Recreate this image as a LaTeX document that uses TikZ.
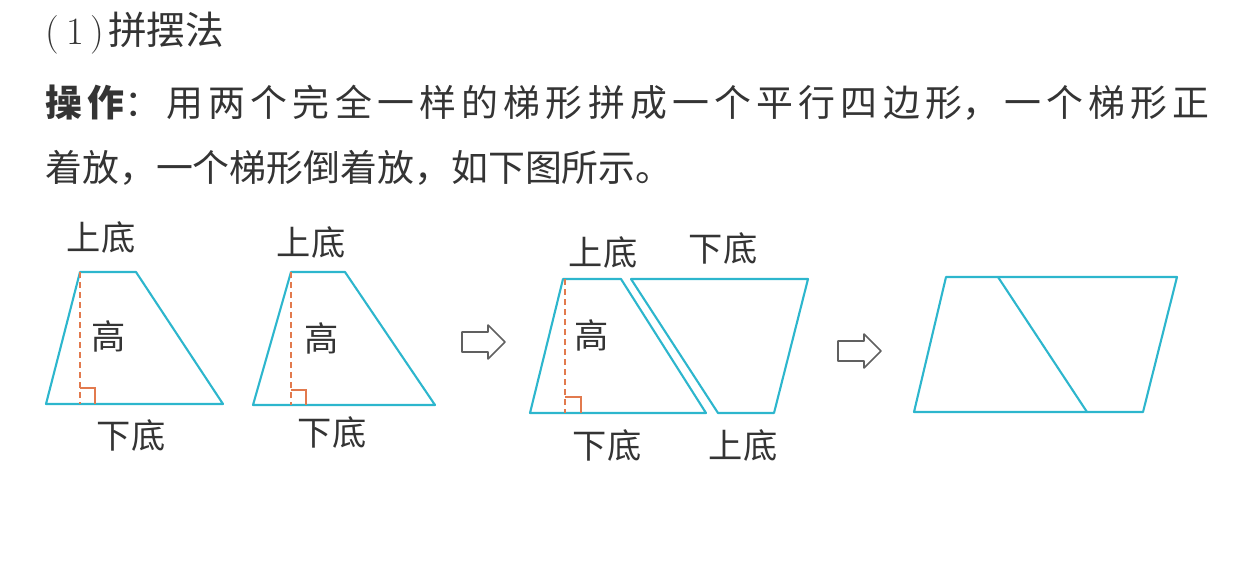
\documentclass[tikz,border=0pt]{standalone}
\usepackage{fontspec}
\newfontfamily\cjk{Noto Sans CJK SC}
\XeTeXlinebreaklocale "zh"
\XeTeXlinebreakskip=0pt plus 1fil
\definecolor{edge}{RGB}{45,182,205}
\definecolor{hgt}{RGB}{226,122,78}
\definecolor{ink}{RGB}{52,52,52}
\tikzset{
  trap/.style={draw=edge,line width=1.2pt,line join=round},
  height/.style={draw=hgt,line width=0.8pt,dash pattern=on 3.4pt off 2.3pt},
  corner/.style={draw=hgt,line width=0.8pt},
  lbl/.style={font=\cjk\fontsize{19.5}{22}\selectfont,text=ink,inner sep=0pt},
  head/.style={font=\cjk\fontsize{21}{25}\selectfont,text=ink,inner sep=0pt,anchor=west},
  fatarrow/.style={draw=gray!75!black,fill=white,line width=0.9pt,line join=round}
}
\begin{document}
\begin{tikzpicture}[x=0.02cm,y=-0.02cm]
    \useasboundingbox (0,0) rectangle (1236,566);

    \node[head,font=\cjk\fontsize{22}{25}\selectfont] (title) at (45,33)
    {{\normalfont(\hspace{4pt}1\hspace{4pt})}\hspace{2pt}拼摆法};
    \node[head,text width=23.4cm,align=justify] (op) at (45,103)
    {\parfillskip=0pt\relax{\bfseries 操作}：用两个完全一样的梯形拼成一个平行四边形，一个梯形正};
    \node[head] (op2) at (45,168) {着放，一个梯形倒着放，如下图所示。};

    % first trapezoid
    \draw[trap] (80,272) -- (136,272) -- (223,404) -- (46,404) -- cycle;
    \draw[height] (80,272) -- (80,404);
    \draw[corner] (80,388) -- (95,388) -- (95,404);
    \node[lbl] (top1) at (101,237) {上底};
    \node[lbl] (gao1) at (109,336) {高};
    \node[lbl] (bot1) at (131,435) {下底};

    % second trapezoid
    \draw[trap] (291,272) -- (345,272) -- (435,405) -- (253,405) -- cycle;
    \draw[height] (291,272) -- (291,405);
    \draw[corner] (291,390) -- (306,390) -- (306,405);
    \node[lbl] (top2) at (311,242) {上底};
    \node[lbl] (gao2) at (322,338) {高};
    \node[lbl] (bot2) at (332,432) {下底};

    \draw[fatarrow] (462,332) -- (488,332) -- (488,325) -- (505,342)
        -- (488,359) -- (488,352) -- (462,352) -- cycle;

    % upright and upside-down trapezoid
    \draw[trap] (563,279) -- (621,279) -- (706,413) -- (530,413) -- cycle;
    \draw[height] (565,279) -- (565,413);
    \draw[corner] (565,397) -- (581,397) -- (581,413);
    \draw[trap] (631,279) -- (808,279) -- (774,413) -- (718,413) -- cycle;
    \node[lbl] (top3) at (603,252) {上底};
    \node[lbl] (gao3) at (592,335) {高};
    \node[lbl] (bot3) at (607,445) {下底};
    \node[lbl] (top4) at (723,248) {下底};
    \node[lbl] (bot4) at (743,445) {上底};

    \begin{scope}[shift={(376,9)}]
        \draw[fatarrow] (462,332) -- (488,332) -- (488,325) -- (505,342)
            -- (488,359) -- (488,352) -- (462,352) -- cycle;
    \end{scope}

    % parallelogram
    \draw[trap] (946,277) -- (1177,277) -- (1143,412) -- (914,412) -- cycle;
    \draw[trap] (998,277) -- (1087,412);
\end{tikzpicture}
\end{document}
